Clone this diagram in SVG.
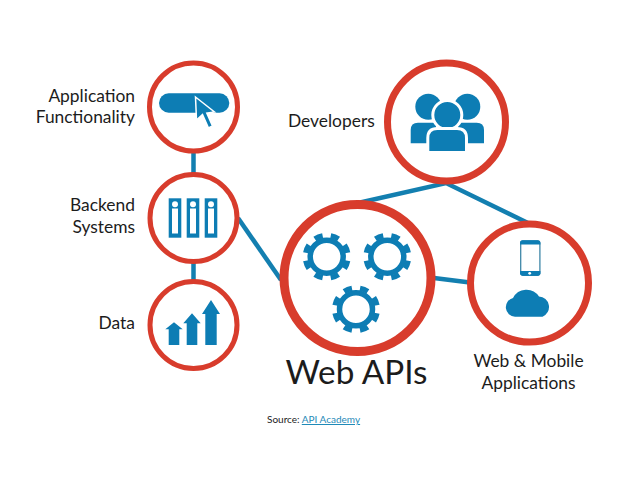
<svg xmlns="http://www.w3.org/2000/svg" width="638" height="478" viewBox="0 0 638 478">
<style>
.ring{fill:#fff;stroke:#d83c2c}
.blue{fill:#0d7db4}
.wht{fill:#fff}
.conn{fill:none;stroke:#137fb0;stroke-width:4.5}
text{font-family:Lato,"Open Sans","Liberation Sans",sans-serif;fill:#1c1c1c}
.lab{font-size:17.400px}
.end{text-anchor:end}
.mid{text-anchor:middle}
</style>
<defs>
<g id="gear">
<circle r="16.500" fill="none" stroke="#0d7db4" stroke-width="5.500"/>
<circle r="21.300" fill="none" stroke="#0d7db4" stroke-width="5.400" pathLength="80" stroke-dasharray="5 5" stroke-dashoffset="-2.500"/>
</g>
</defs>
<rect width="638" height="478" fill="#fff"/>
<g id="connectors">
<path class="conn" d="M193.500 150V175M193.500 261V282"/>
<path class="conn" d="M238 218L281 280"/>
<path class="conn" d="M358 203L446 183L530 224"/>
<path class="conn" d="M434 278L470 282.500"/>
</g>
<g id="application-functionality">
<circle class="ring" cx="193.500" cy="107" r="44" stroke-width="5"/>
<rect class="blue" x="159" y="93.300" width="70.300" height="19.400" rx="9.700"/>
<path class="blue" stroke="#fff" stroke-width="1.500" d="M195.500 97L196.500 120L202.500 114.500L208.500 128L212.500 126L206.800 113L214.500 112Z"/>
<text class="lab end" x="135" y="102">Application</text>
<text class="lab end" x="135" y="123">Functionality</text>
</g>
<g id="backend-systems">
<circle class="ring" cx="193.500" cy="218" r="43.500" stroke-width="5"/>
<rect class="blue" x="168.700" y="198.300" width="12.600" height="39.400"/>
<rect class="blue" x="186.700" y="198.300" width="12.600" height="39.400"/>
<rect class="blue" x="204.700" y="198.300" width="12.600" height="39.400"/>
<g class="wht">
<rect x="172" y="208.500" width="6" height="25"/><circle cx="175" cy="204.300" r="3"/>
<rect x="190" y="208.500" width="6" height="25"/><circle cx="193" cy="204.300" r="3"/>
<rect x="208" y="208.500" width="6" height="25"/><circle cx="211" cy="204.300" r="3"/>
</g>
<text class="lab end" x="135" y="211">Backend</text>
<text class="lab end" x="135" y="233">Systems</text>
</g>
<g id="data">
<circle class="ring" cx="193.500" cy="325" r="43.500" stroke-width="5"/>
<path class="blue" d="M165.300 329.300L174 322.300L182.700 329.300H179.300V345H168.700V329.300Z"/>
<path class="blue" d="M183.300 323.300L192 313.300L200.700 323.300H197.300V345H186.700V323.300Z"/>
<path class="blue" d="M202 314L211 300L220 314H216.700V345H205.300V314Z"/>
<text class="lab end" x="135" y="329">Data</text>
</g>
<g id="developers">
<circle class="ring" cx="446.500" cy="122" r="59" stroke-width="7"/>
<circle class="blue" cx="428.300" cy="106.700" r="13"/>
<circle class="blue" cx="467.300" cy="106.700" r="13"/>
<path class="blue" d="M410.700 143.300V130Q410.700 122.700 418 122.700H436V143.300Z"/>
<path class="blue" d="M484 143.300V130Q484 122.700 476.700 122.700H458V143.300Z"/>
<circle class="blue" stroke="#fff" stroke-width="3" cx="447.300" cy="115" r="14.500"/>
<path class="blue" stroke="#fff" stroke-width="3" d="M427.800 152.500V138Q427.800 128.500 437.300 128.500H457Q466.500 128.500 466.500 138V152.500Z"/>
<text class="lab" x="288" y="127">Developers</text>
</g>
<g id="web-apis">
<circle class="ring" cx="357.500" cy="278" r="73.500" stroke-width="9"/>
<use href="#gear" x="326.700" y="256.700"/>
<use href="#gear" x="387.300" y="256.700"/>
<use href="#gear" x="356" y="309.300"/>
<text x="356.500" y="384" class="mid" font-size="33.300">Web APIs</text>
</g>
<g id="web-mobile-applications">
<circle class="ring" cx="529.500" cy="283" r="59" stroke-width="7"/>
<rect x="520.700" y="240.900" width="19.200" height="34.400" rx="2.500" fill="#fff" stroke="#3f87a8" stroke-width="1.300"/>
<path class="blue" d="M520 244.500V242.800Q520 240.300 522.500 240.300H538Q540.400 240.300 540.400 242.800V244.500Z"/>
<path class="blue" d="M520 271H540.400V273.300Q540.400 275.700 538 275.700H522.500Q520 275.700 520 273.300Z"/>
<circle class="wht" cx="529.700" cy="273.300" r="1.400"/>
<path class="blue" d="M515 316.700A9.500 9.500 0 0 1 513 298A15 15 0 0 1 539 296.500A10.500 10.500 0 0 1 542.500 316.700Z"/>
<text class="lab mid" x="528.500" y="367">Web &amp; Mobile</text>
<text class="lab mid" x="528.500" y="389">Applications</text>
</g>
<g id="source">
<text x="267" y="423" font-size="10">Source: <tspan fill="#1f8ab8" text-decoration="underline">API Academy</tspan></text>
</g>
</svg>
